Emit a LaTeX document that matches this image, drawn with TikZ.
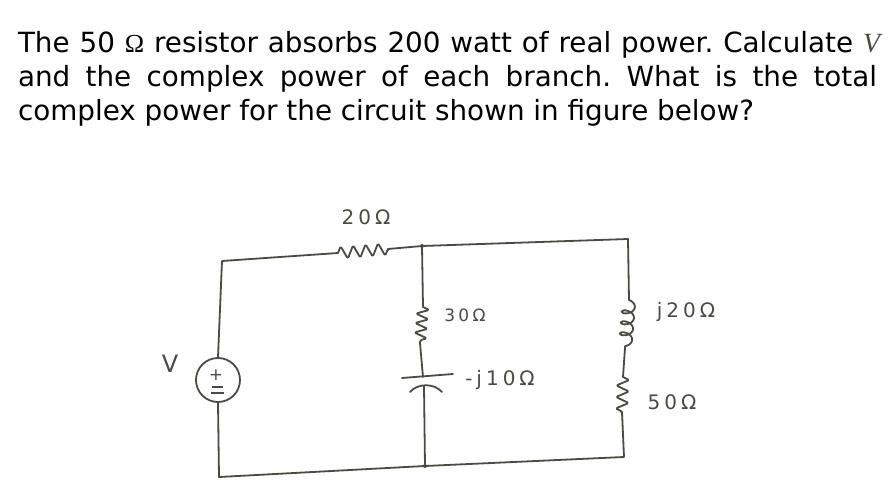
\documentclass[tikz,border=0pt]{standalone}
\usepackage{fontspec}
\setmainfont{DejaVu Sans}
\newfontfamily\serifface{Liberation Serif}
\newfontfamily\handface[LetterSpace=20]{DejaVu Sans}
\usetikzlibrary{decorations.pathmorphing}
\definecolor{ink}{HTML}{4A4A46}
\tikzset{
  wire/.style={draw=ink,line width=1.8pt,line cap=round,line join=round},
  rzig/.style={wire,rounded corners=1.5pt,decorate,decoration={zigzag,segment length=#1,amplitude=6.5pt}},
  rzig/.default=12pt,
  lcoil/.style={wire,decorate,decoration={coil,segment length=11pt,amplitude=6.5pt,aspect=0.6}},
  qline/.style={anchor=base west,inner sep=0pt,outer sep=0pt,font=\fontsize{27.8}{30}\selectfont,text=black},
  hand/.style={inner sep=0pt,text=ink,font=\handface\fontsize{20}{22}\selectfont},
  source/.style={circle,draw=ink,line width=1.8pt,minimum size=44pt,inner sep=0pt},
  dot/.style={circle,fill=ink,inner sep=0pt,minimum size=4pt}
}
\begin{document}
\begin{tikzpicture}[x=1pt,y=-1pt]
\useasboundingbox (0,0) rectangle (892,500);
\fill[white] (0,0) rectangle (892,500);
% question text
\node[qline] (l1) at (18,53) {\frenchspacing\makebox[862pt][s]{The 50 {\serifface\fontsize{26}{28}\selectfont Ω} resistor absorbs 200 watt of real power. Calculate {\serifface\itshape\color{ink}V}}};
\node[qline] (l2) at (18,87) {\frenchspacing\makebox[859pt][s]{and the complex power of each branch. What is the total}};
\node[qline] (l3) at (18,121) {complex power for the circuit shown in figure below?};
% junctions and terminals
\coordinate (tl) at (222,261);
\coordinate (r1a) at (338,253);
\coordinate (r1b) at (388,249);
\coordinate (tm) at (422,246);
\coordinate (tr) at (628,239);
\coordinate (bl) at (219,477);
\coordinate (bm) at (425,466);
\coordinate (br) at (624,457);
\coordinate (r2a) at (423,307);
\coordinate (r2b) at (420,343);
\coordinate (c1) at (423,377);
\coordinate (c2) at (424,386);
\coordinate (pa) at (402,378);
\coordinate (pb) at (453,374);
\coordinate (qa) at (410,392);
\coordinate (qb) at (442,392);
\coordinate (la) at (629,300);
\coordinate (lb) at (625,348);
\coordinate (r3a) at (623,377);
\coordinate (r3b) at (622,412);
% source
\node[source] (vs) at (218,380) {};
\node[inner sep=0pt,text=ink,font=\fontsize{17}{17}\selectfont] (plus) at (216,375) {+};
\node[inner sep=0pt,minimum width=11pt,minimum height=1.4pt,fill=ink] (m1) at (217,387) {};
\node[inner sep=0pt,minimum width=13pt,minimum height=1.4pt,fill=ink] (m2) at (217,393) {};
% wires
\draw[wire] (vs.north) -- (tl) -- (r1a);
\draw[rzig=12.5pt] (r1a) -- (r1b);
\draw[wire] (r1b) -- (tm) -- (tr) -- (la);
\draw[lcoil] (la) -- (lb);
\draw[wire] (lb) -- (r3a);
\draw[rzig=11.5pt] (r3a) -- (r3b);
\draw[wire] (r3b) -- (br) -- (bm) -- (bl) -- (vs.south);
\draw[wire] (tm) -- (r2a);
\draw[rzig=9.5pt] (r2a) -- (r2b);
\draw[wire] (r2b) -- (c1);
\draw[wire] (pa) -- (pb);
\draw[wire] (qa) .. controls (418,383) and (434,383) .. (qb);
\draw[wire] (c2) -- (bm);
\node[dot] (n1) at (tm) {};
\node[dot] (n2) at (bm) {};
% labels
\node[hand] (lab20) at (366,217) {20Ω};
\node[hand,font=\handface\fontsize{17}{19}\selectfont] (lab30) at (465,315) {30Ω};
\node[hand] (labc) at (500,380) {-j10Ω};
\node[hand] (labl) at (686,312) {j20Ω};
\node[hand] (lab50) at (672,402) {50Ω};
\node[hand,font=\fontsize{24}{24}\selectfont] (labv) at (170,364) {V};
\end{tikzpicture}
\end{document}
